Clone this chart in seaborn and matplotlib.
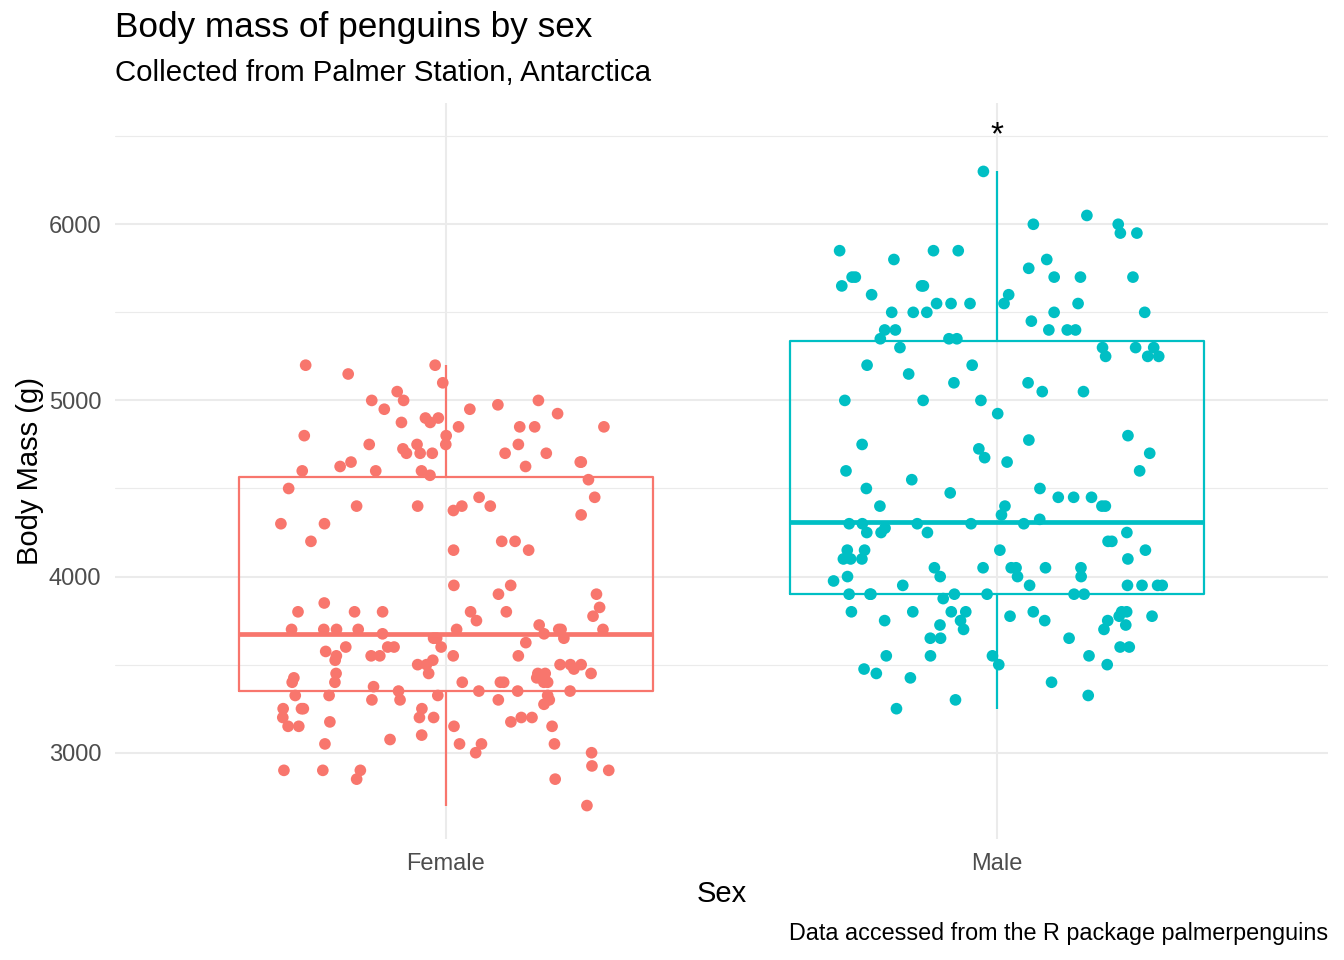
import matplotlib
matplotlib.use("Agg")
import matplotlib.pyplot as plt
import seaborn as sns
import pandas as pd
import numpy as np

# body mass (g)
female_mass = [
    5200, 5000, 4900, 4850, 4850, 4850, 4800, 4800, 4750, 4750, 4700, 4700, 4700,
    4600, 4600, 4650, 4650, 4575, 4550, 4500, 4450, 4450, 4400, 4400, 4350, 4300,
    4150, 4150, 4200, 5200, 5150, 5100, 5000, 4900, 4875, 4925, 4850, 4950, 4950,
    5000, 4875, 5050, 4975, 4725, 4700, 4750, 4750, 4650, 4625, 4625, 4700, 4600,
    4400, 4375, 4400, 4300, 4200, 4200, 3950, 3950, 3900, 3800, 3800, 3800, 3750,
    3700, 3825, 3775, 3700, 3650, 3700, 3700, 3675, 3650, 3625, 3600, 3575, 3600,
    3600, 3550, 3525, 3500, 3450, 3425, 3400, 3550, 3525, 3450, 3475, 3400, 3450,
    3450, 3425, 3350, 3300, 3325, 3275, 3350, 3325, 3300, 3250, 3350, 3300, 3250,
    3350, 3200, 3150, 3200, 3200, 3200, 3200, 3150, 3050, 3050, 3050, 2925, 2900,
    2850, 3900, 3850, 3800, 3800, 3700, 3725, 3650, 3700, 3700, 3675, 3700, 3550,
    3550, 3500, 3500, 3600, 3500, 3550, 3500, 3450, 3400, 3400, 3400, 3400, 3400,
    3375, 3325, 3325, 3250, 3300, 3250, 3175, 3150, 3150, 3175, 3100, 3050, 3075,
    3000, 3000, 2900, 2900, 2900, 2850, 2700,
]
male_mass = [
    6300, 6050, 6000, 6000, 5950, 5850, 5650, 5650, 5600, 5700, 5650, 5700, 5700,
    5550, 5550, 5500, 5550, 5600, 5550, 5400, 5400, 5400, 5350, 5350, 5300, 5300,
    5250, 5200, 5100, 5150, 5000, 5000, 4925, 5950, 5850, 5800, 5750, 5700, 5700,
    5550, 5500, 5450, 5500, 5500, 5400, 5400, 5350, 5300, 5250, 5200, 5100, 5000,
    5250, 5300, 5050, 5050, 5800, 5850, 5500, 4775, 4750, 4800, 4675, 4725, 4500,
    4450, 4400, 4500, 4550, 4450, 4400, 4400, 4300, 4250, 4350, 4325, 4300, 4200,
    4300, 4250, 4200, 4150, 4050, 4050, 4000, 4050, 4050, 4100, 4100, 4050, 4000,
    4100, 4050, 4000, 3950, 3950, 3875, 3950, 3900, 3900, 3900, 3900, 3800, 3800,
    3725, 3725, 3750, 3650, 3800, 3800, 3775, 3800, 3750, 3650, 3600, 3550, 3550,
    3450, 4700, 4650, 4600, 4600, 4475, 4450, 4400, 4300, 4250, 4250, 4275, 4300,
    4150, 4150, 4100, 4150, 3900, 3950, 3900, 3950, 3900, 3975, 3950, 4000, 3750,
    3775, 3800, 3700, 3800, 3700, 3750, 3775, 3600, 3650, 3475, 3550, 3550, 3500,
    3500, 3425, 3400, 3300, 3325, 3250,
]
sex_levels = ["Female", "Male"]
sex_colors = ["#F8766D", "#00BFC4"]
y_ticks = [3000, 4000, 5000, 6000]
y_minor = [3500, 4500, 5500, 6500]

df = pd.DataFrame({
    "sex": ["Female"] * len(female_mass) + ["Male"] * len(male_mass),
    "body_mass_g": female_mass + male_mass,
})

sns.set_theme(style="white")
plt.rcParams["font.family"] = ["Liberation Sans", "DejaVu Sans"]
plt.rcParams["text.color"] = "black"

fig = plt.figure(figsize=(13.44, 9.6), dpi=100)
ax = fig.add_axes([0.0856, 0.126, 0.9024, 0.767])

np.random.seed(7)
sns.stripplot(data=df, x="sex", y="body_mass_g", hue="sex", order=sex_levels,
              hue_order=sex_levels, palette=sex_colors, jitter=0.3, size=8.4,
              linewidth=0, legend=False, ax=ax, zorder=3)
sns.boxplot(data=df, x="sex", y="body_mass_g", hue="sex", order=sex_levels,
            hue_order=sex_levels, palette=sex_colors, fill=False, width=0.75,
            showfliers=False, showcaps=False, linewidth=1.6,
            medianprops={"linewidth": 3.4}, legend=False, ax=ax, zorder=4)

# significance mark
ax.text(1, 6500, "*", ha="center", va="center", fontsize=24, color="black")

ax.set_xlim(-0.6, 1.6)
ax.set_ylim(2510, 6690)
ax.set_yticks(y_ticks)
ax.set_yticks(y_minor, minor=True)
ax.grid(which="major", axis="both", color="#EBEBEB", linewidth=1.5, zorder=0)
ax.grid(which="minor", axis="y", color="#EBEBEB", linewidth=0.8, zorder=0)
ax.set_axisbelow(True)
for s in ax.spines.values():
    s.set_visible(False)
ax.tick_params(which="both", length=0, labelsize=17, colors="#4D4D4D", pad=10)

ax.set_xlabel("Sex", fontsize=21, color="black", labelpad=4)
ax.set_ylabel("Body Mass (g)", fontsize=21, color="black", labelpad=3)

fig.text(0.0856, 0.971, "Body mass of penguins by sex", fontsize=25.3, va="center", ha="left")
fig.text(0.0856, 0.924, "Collected from Palmer Station, Antarctica", fontsize=21.2,
         va="center", ha="left")
fig.text(0.988, 0.028, "Data accessed from the R package palmerpenguins", fontsize=16.8,
         va="center", ha="right")

fig.savefig("out.png", dpi=100, facecolor="white")
